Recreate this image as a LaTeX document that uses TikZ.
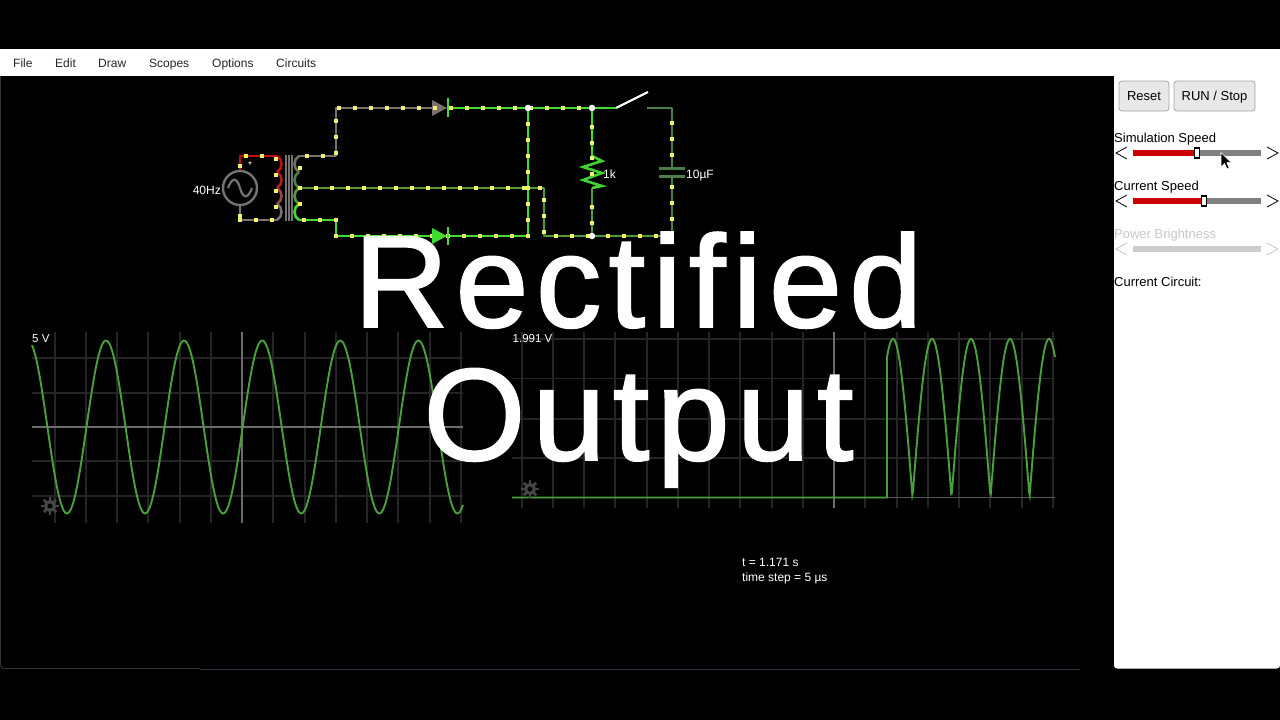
\documentclass[tikz,border=0pt]{standalone}
\usepackage{fontspec}
\setmainfont{Liberation Sans}
\newfontfamily\bigfont[LetterSpace=5.6,FakeBold=1.5]{Liberation Sans}
\usetikzlibrary{decorations.markings}
\definecolor{wirebright}{HTML}{3FDD2F}
\definecolor{wiremid}{HTML}{4E9A3E}
\definecolor{wiredim}{HTML}{4A7F48}
\definecolor{wiregrey}{HTML}{7A706C}
\definecolor{wirered}{HTML}{C01010}
\definecolor{dotcol}{HTML}{F2F26A}
\definecolor{gridcol}{HTML}{252525}
\definecolor{axiscol}{HTML}{6C6C6C}
\definecolor{basecol}{HTML}{5A5656}
\definecolor{edgecol}{HTML}{2A3244}
\definecolor{tracecol}{HTML}{4AA03A}
\definecolor{gearcol}{HTML}{464646}
\tikzset{
  wire/.style={line width=2.6pt, line join=round},
  dots/.style={postaction={decorate, decoration={markings,
    mark=between positions #1 and 1 step 16pt with {\fill[dotcol] (-2pt,-2pt) rectangle (2pt,2pt);}}}},
  label/.style={text=white, inner sep=0pt, font=\fontsize{12}{14}\selectfont},
  uitext/.style={anchor=base west, inner sep=0pt, font=\fontsize{13}{15}\selectfont, text=#1},
  uitext/.default=black,
  button/.style={draw=black!35, fill=black!9, rounded corners=3pt, line width=0.8pt, minimum height=30pt, inner sep=0pt, text height=10.5pt, text depth=1.5pt, font=\fontsize{13}{15}\selectfont},
  title/.style={text=white, inner sep=0pt, anchor=base, font=\bigfont\fontsize{131}{131}\selectfont},
  junction/.style={fill=white, circle, inner sep=0pt, minimum size=6.5pt},
}
\begin{document}
\begin{tikzpicture}[x=1pt, y=-1pt]
\useasboundingbox (0,0) rectangle (1280,720);
\fill[black] (0,0) rectangle (1280,720);
\fill[white] (0,49) rectangle (1280,76);
\fill[white, rounded corners=3pt] (1114,60) rectangle (1280,668.5);
\fill[white] (1114,60) rectangle (1280,90);
% window edge
\draw[black!80, line width=0.8pt] (0.6,76) -- (0.6,666) -- (3,668.5) -- (200,668.5);
\draw[edgecol, line width=1.6pt] (200,669.5) -- (1080,669.5);
% menu
\foreach \nm/\xm/\txt in {mfile/13/File, medit/55/Edit, mdraw/98/Draw, mscopes/149/Scopes, moptions/212/Options, mcircuits/276/Circuits}
  \node[uitext=black!85, font=\fontsize{12}{14}\selectfont] (\nm) at (\xm,67) {\txt};
% left scope
\foreach \y in {358,393,461,496} \draw[gridcol, line width=1.3pt] (32,\y) -- (463,\y);
\foreach \x in {55,86,117,148,180,211,273,305,336,367,398,430,461} \draw[gridcol, line width=1.3pt] (\x,332) -- (\x,523);
\draw[axiscol, line width=1.3pt] (32,427) -- (463,427);
\draw[axiscol, line width=1.3pt] (242,332) -- (242,523);
\draw[tracecol, line width=1.9pt] plot[domain=32:463, samples=260] (\x,{427-86.5*cos(4.6095*(\x-106))});
% right scope
\foreach \y in {339,378.5,419,458} \draw[gridcol, line width=1.3pt] (512,\y) -- (1055,\y);
\foreach \x in {522,553,584,615,647,678,709,740,772,803,865,897,928,959,990,1022,1053} \draw[gridcol, line width=1.3pt] (\x,332) -- (\x,508);
\draw[axiscol, line width=1.3pt] (834,332) -- (834,508);
\draw[basecol, line width=1.6pt] (887,497.5) -- (1055,497.5);
\draw[tracecol, line width=1.9pt] (512,497.5) -- (887,497.5) -- (887,357)
  plot[domain=887:1055, samples=260] (\x,{497.5-158.5*abs(cos(4.615*(\x-893)))});
% gears
\foreach \cx/\cy in {50/506, 530/489} {
  \foreach \a in {0,45,...,315} \draw[gearcol, line width=2.8pt] (\cx,\cy) ++(\a:4pt) -- ++(\a:4.8pt);
  \draw[gearcol, line width=3.2pt] (\cx,\cy) circle (4.4pt);
}
\node[label, font=\fontsize{11.5}{14}\selectfont, anchor=base west] (voltl) at (32,342) {5 V};
\node[label, font=\fontsize{11.5}{14}\selectfont, anchor=base west] (voltr) at (512.5,342) {1.991 V};
\node[label, anchor=base west] (tval) at (742,566) {t = 1.171 s};
\node[label, anchor=base west] (tstep) at (742,581) {time step = 5 µs};
% circuit points
\coordinate (srctop) at (240,171);
\coordinate (srctl) at (240,156);
\coordinate (pritop) at (277,156);
\coordinate (srcbot) at (240,205);
\coordinate (srcbl) at (240,220);
\coordinate (pribot) at (277,220);
\coordinate (sectop) at (299,156);
\coordinate (seccen) at (300,188);
\coordinate (secbot) at (299,220);
\coordinate (upbend) at (336,156);
\coordinate (upcorner) at (336,108);
\coordinate (upanode) at (434,108);
\coordinate (upcath) at (448,108);
\coordinate (lowbend) at (336,220);
\coordinate (lowcorner) at (336,236);
\coordinate (lowanode) at (434,236);
\coordinate (lowcath) at (448,236);
\coordinate (railjoin) at (528,108);
\coordinate (lowjoin) at (528,236);
\coordinate (cenbend) at (544,188);
\coordinate (cenlow) at (544,236);
\coordinate (restop) at (592,108);
\coordinate (resa) at (592,156);
\coordinate (resb) at (592,188);
\coordinate (resbot) at (592,236);
\coordinate (swa) at (616,108);
\coordinate (swb) at (648,92);
\coordinate (swc) at (647,108);
\coordinate (capcorner) at (672,108);
\coordinate (capa) at (672,169);
\coordinate (capb) at (672,176);
\coordinate (capbot) at (672,236);
% wires
\draw[wire, wirered, dots=5pt] (srctop) -- (srctl) -- (pritop);
\draw[wire, wiregrey, dots=15pt] (srcbot) -- (srcbl) -- (pribot);
\draw[wire, wiregrey, dots=8pt] (sectop) -- (upbend) -- (upcorner) -- (upanode);
\draw[wire, wiremid, dots=16pt] (seccen) -- (cenbend) -- (cenlow) -- (resbot);
\draw[wire, wirebright, dots=5pt] (secbot) -- (lowbend) -- (lowcorner) -- (lowanode);
\draw[wire, wirebright, dots=0pt] (lowcath) -- (lowjoin) -- (railjoin);
\draw[wire, wirebright, dots=3pt] (upcath) -- (railjoin) -- (restop);
\draw[wire, wirebright] (restop) -- (swa);
\draw[wire, wirebright, dots=19pt] (restop) -- (resa);
\draw[wire, wiremid, dots=19pt] (resb) -- (resbot);
\draw[wire, wiremid, dots=16pt] (resbot) -- (capbot);
\draw[wire, wiredim, dots=40pt] (swc) -- (capcorner) -- (capa);
\draw[wire, wiredim, dots=11pt] (capb) -- (capbot);
\draw[white, line width=2.2pt] (swa) -- (swb);
% capacitor
\draw[wiredim, line width=3pt] (659,168) -- (685,168);
\draw[wiredim, line width=3pt] (659,176) -- (685,176);
\node[label, anchor=base west] (lcap) at (686,178) {10µF};
% resistor
\draw[wirebright!85!wiremid, line width=2.6pt, line join=miter] (resa) -- (602,161) -- (583,167) -- (602,173) -- (583,180) -- (602,186) -- (resb);
\foreach \y in {158,174} \fill[dotcol] (590,\y-2) rectangle (594,\y+2);
\node[label, anchor=base west] (lres) at (603,178) {1k};
% diodes
\fill[wiregrey] (432,100) -- (447,108) -- (432,116) -- cycle;
\fill[dotcol] (433,106) rectangle (437,110);
\fill[wirebright] (432,228) -- (447,236) -- (432,244) -- cycle;
\draw[wirebright, line width=2.4pt] (448,98) -- (448,117);
\draw[wirebright, line width=2.4pt] (448,227) -- (448,245);
% junctions
\node[junction] (jrail) at (railjoin) {};
\node[junction] (jres) at (restop) {};
\node[junction] (jlow) at (resbot) {};
% source
\node[draw=black!55, line width=2.4pt, circle, minimum size=34pt, inner sep=0pt, fill=black] (source) at (240,188) {};
\draw[black!55, line width=2.2pt] (228,188) .. controls (232,177) and (237,177) .. (240,188) .. controls (243,199) and (248,199) .. (252,188);
\node[label, anchor=east] (freq) at (221,190) {40Hz};
\node[label, font=\fontsize{10}{12}\selectfont] (star) at (250,165) {*};
\fill[dotcol] (238,214) rectangle (242,218);
% transformer
\foreach \y/\col in {156/wirered, 172/wirered!85!wiregrey, 188/wirered!45!wiregrey, 204/wiregrey}
  \draw[\col, line width=2.6pt] (277,\y) .. controls (283,\y+3) and (283,\y+13) .. (277,\y+16);
\foreach \y/\col in {156/wiregrey!60!wiredim, 172/wiredim, 188/wiremid, 204/wirebright}
  \draw[\col, line width=2.6pt] (299,\y) .. controls (293,\y+3) and (293,\y+13) .. (299,\y+16);
\foreach \x in {285.5,288.5,291.5} \draw[black!55, line width=2pt] (\x,155) -- (\x,221);
\foreach \y in {157,173,189,205} \fill[dotcol] (274,\y) rectangle (278,\y+4);
\foreach \y in {166,202} \fill[dotcol] (298,\y) rectangle (302,\y+4);
\fill[dotcol] (298,186) rectangle (302,190);
% control panel
\node[button, minimum width=50pt] (reset) at (1144,96) {Reset};
\node[button, minimum width=81pt] (runstop) at (1214.5,96) {RUN / Stop};
\node[uitext] (lsim) at (1114,142) {Simulation Speed};
\node[uitext] (lcur) at (1114,190) {Current Speed};
\node[uitext=black!22] (lpow) at (1114,238) {Power Brightness};
\node[uitext] (lcirc) at (1114,286) {Current Circuit:};
\foreach \y/\col in {153/black, 201/black, 249/black!22} {
  \draw[\col, line width=0.8pt] (1127,\y-6) -- (1116,\y) -- (1127,\y+6);
  \draw[\col, line width=0.8pt] (1267,\y-6) -- (1278,\y) -- (1267,\y+6);
}
\foreach \y/\xt in {153/1197, 201/1204} {
  \fill[black!50] (1133,\y-3) rectangle (1261,\y+3);
  \fill[red!80!black] (1133,\y-3) rectangle (\xt,\y+3);
  \draw[black, fill=white, line width=1.6pt] (\xt-2.5,\y-5) rectangle (\xt+2.5,\y+5);
}
\fill[black!20] (1133,246) rectangle (1261,252);
% mouse cursor
\draw[white, fill=black, line width=0.6pt, line join=round] (1221,152.5) -- (1221,167) -- (1224.5,163.5) -- (1227,169) -- (1229.2,168) -- (1226.8,162.6) -- (1231,162.3) -- cycle;
% big title
\node[title] (rectified) at (638,327) {Rectified};
\node[title] (output) at (638.5,460) {Output};
\end{tikzpicture}
\end{document}
